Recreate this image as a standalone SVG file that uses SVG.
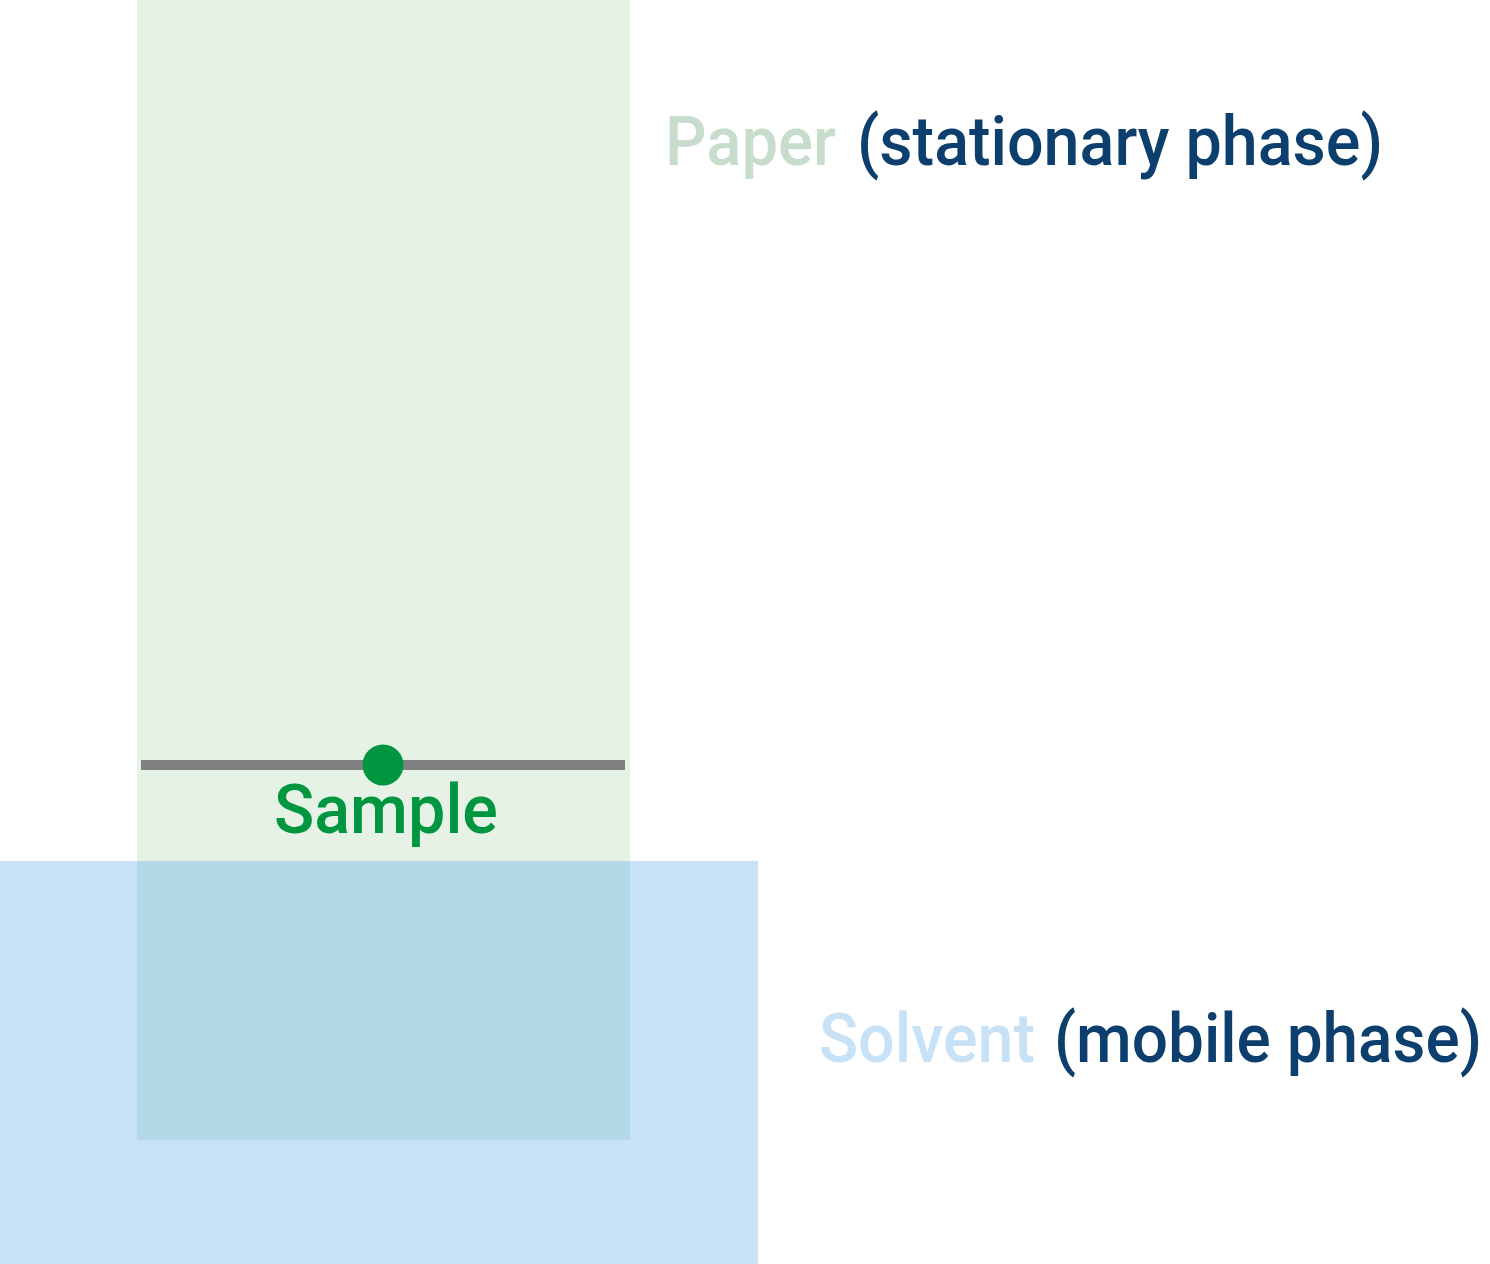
<svg xmlns="http://www.w3.org/2000/svg" width="1490" height="1264" viewBox="0 0 1490 1264">
<style>
.lbl{font-family:Roboto,"DejaVu Sans",sans-serif;font-weight:500;font-size:68px}
.dark{fill:#0d3f6e}
</style>
<rect width="1490" height="1264" fill="#ffffff"/>
<g id="paper">
<rect x="137" y="0" width="493" height="1140" fill="#e6f2e6"/>
</g>
<g id="solvent">
<rect x="0" y="861" width="758" height="403" fill="#c7e2f7"/>
<rect x="137" y="861" width="493" height="279" fill="#b4d8e6"/>
</g>
<g id="sample">
<rect x="141" y="760" width="484" height="10" fill="#808080"/>
<circle cx="383" cy="765" r="20.5" fill="#009640"/>
<text class="lbl" x="274" y="833" fill="#009640" textLength="224" lengthAdjust="spacingAndGlyphs">Sample</text>
</g>
<g id="paper-label">
<text class="lbl" y="165"><tspan x="665" fill="#c8dccb" textLength="171" lengthAdjust="spacingAndGlyphs">Paper</tspan><tspan class="dark" x="857" textLength="526" lengthAdjust="spacingAndGlyphs">(stationary phase)</tspan></text>
</g>
<g id="solvent-label">
<text class="lbl" y="1062"><tspan x="819" fill="#c7e2f7" textLength="216" lengthAdjust="spacingAndGlyphs">Solvent</tspan><tspan class="dark" x="1054" textLength="428" lengthAdjust="spacingAndGlyphs">(mobile phase)</tspan></text>
</g>
<g id="connectors"></g>
</svg>
